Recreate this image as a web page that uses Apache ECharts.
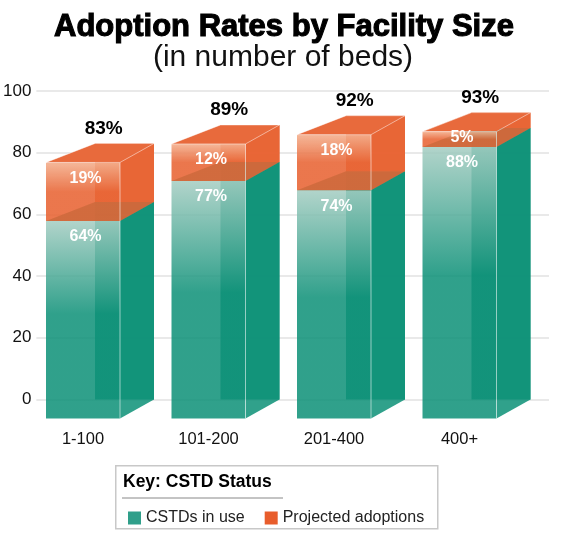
<!DOCTYPE html>
<html>
<head>
<meta charset="utf-8">
<script src="https://cdn.jsdelivr.net/npm/echarts@6/dist/echarts.min.js"></script>
<style>
  html, body { margin: 0; padding: 0; background: #fff; }
  #chart { width: 579px; height: 548px; }
</style>
</head>
<body>
<div id="chart"></div>
<script>
// data
var categories = ['1-100', '101-200', '201-400', '400+'];
var inUse = [64, 77, 74, 88];        // CSTDs in use (%)
var projected = [19, 12, 18, 5];     // Projected adoptions (%)

var FONT = '"Liberation Sans", Arial, sans-serif';
var myChart = echarts.init(document.getElementById('chart'));

var greenData = categories.map(function (c, i) { return [i, 0, inUse[i]]; });
var orangeData = categories.map(function (c, i) { return [i, inUse[i], inUse[i] + projected[i]]; });

function makeBox(kind) {
  var green = kind === 'green';
  var base = green ? 'rgba(14,145,120,0.86)' : 'rgba(232,100,52,0.88)';
  var pale = green ? 'rgba(165,205,194,0.86)' : 'rgba(244,176,142,0.9)';
  var stop = green ? 0.47 : 0.5;
  return function (params, api) {
    var i = api.value(0);
    var v0 = api.value(1), v1 = api.value(2);
    var p0 = api.coord([i, v0]);
    var p1 = api.coord([i, v1]);
    var cx = p0[0], yb0 = p0[1], yb1 = p1[1];
    // front face is 74px wide, the back face sits up and to the right of it
    var FL = cx - 37, FR = cx + 37, BL = cx + 12, BR = cx + 71, D = 19;
    var h = yb0 - yb1;
    var children = [
      { type: 'rect', shape: { x: BL, y: yb1, width: BR - BL, height: h }, style: { fill: base } },
      { type: 'polygon', shape: { points: [[FR, yb1 + D], [BR, yb1], [BR, yb0], [FR, yb0 + D]] }, style: { fill: base } },
      { type: 'rect', shape: { x: FL, y: yb1 + D, width: FR - FL, height: h },
        style: { fill: new echarts.graphic.LinearGradient(0, 0, 0, 1, [
          { offset: 0, color: pale }, { offset: stop, color: base }, { offset: 1, color: base }
        ]) } },
      { type: 'line', shape: { x1: FR, y1: yb1 + D, x2: FR, y2: yb0 + D }, style: { stroke: 'rgba(255,255,255,0.55)', lineWidth: 1 } }
    ];
    if (green) {
      children.push({ type: 'polygon', shape: { points: [[FL, yb1 + D], [FR, yb1 + D], [BR, yb1], [BL, yb1]] }, style: { fill: base } });
    } else {
      children.push({ type: 'polygon', shape: { points: [[FL, yb1 + D], [FR, yb1 + D], [BR, yb1], [BL, yb1]] },
        style: { fill: '#e86a3c', stroke: 'rgba(255,255,255,0.6)', lineWidth: 0.8 } });
      children.push({ type: 'text', style: {
        text: v1 + '%', x: (FL + FR + BL + BR) / 4, y: yb1 - 15,
        fill: '#000', font: 'bold 19px ' + FONT, align: 'center', verticalAlign: 'middle' } });
    }
    var ft = yb1 + D, fb = yb0 + D;
    children.push({ type: 'text', style: {
      text: (v1 - v0) + '%', x: cx + 2.5, y: Math.min(ft + 16, (ft + fb) / 2 - 2),
      fill: '#fff', font: 'bold 16px ' + FONT, align: 'center', verticalAlign: 'middle' } });
    return { type: 'group', children: children };
  };
}

var option = {
  animation: false,
  title: [
    { text: 'Adoption Rates by Facility Size', left: 279, textAlign: 'center', top: 7,
      textStyle: { fontFamily: FONT, fontSize: 31, fontWeight: 'bold', color: '#000', textBorderColor: '#000', textBorderWidth: 1.1 } },
    { text: '(in number of beds)', left: 278, textAlign: 'center', top: 38,
      textStyle: { fontFamily: FONT, fontSize: 30, fontWeight: 'normal', color: '#111' } }
  ],
  grid: [
    { left: 35, right: 30, top: 91, bottom: 148.5 },
    { left: 20.25, width: 502, top: 91, bottom: 148.5 }
  ],
  xAxis: [
    { type: 'value', gridIndex: 0, show: false, min: 0, max: 1 },
    { type: 'category', gridIndex: 1, data: categories,
      axisLine: { show: false }, axisTick: { show: false },
      axisLabel: { fontFamily: FONT, fontSize: 16.5, color: '#111', margin: 31 } }
  ],
  yAxis: [
    { type: 'value', gridIndex: 0, min: 0, max: 100, interval: 20,
      axisLine: { show: false }, axisTick: { show: false },
      axisLabel: { fontFamily: FONT, fontSize: 17, color: '#111', margin: 5 },
      splitLine: { lineStyle: { color: '#e2e2e2', width: 1.5 } } },
    { type: 'value', gridIndex: 1, min: 0, max: 100, show: false }
  ],
  legend: {
    data: ['CSTDs in use', 'Projected adoptions'],
    left: 123, top: 505, icon: 'rect', itemWidth: 13, itemHeight: 13, itemGap: 20,
    textStyle: { fontFamily: FONT, fontSize: 16, color: '#222' }
  },
  graphic: [
    { type: 'rect', left: 115, top: 465, z: -1, shape: { width: 322, height: 63 },
      style: { fill: '#fff', stroke: '#c8c8c8', lineWidth: 1.5 } },
    { type: 'text', left: 123, top: 473,
      style: { text: 'Key: CSTD Status', font: 'bold 17.5px ' + FONT, fill: '#000' } },
    { type: 'line', shape: { x1: 122, y1: 498, x2: 283, y2: 498 }, style: { stroke: '#888', lineWidth: 1 } }
  ],
  series: [
    { name: 'CSTDs in use', type: 'custom', xAxisIndex: 1, yAxisIndex: 1, clip: false,
      itemStyle: { color: '#2f9f8a' }, encode: { x: 0, y: [1, 2] },
      renderItem: makeBox('green'), data: greenData },
    { name: 'Projected adoptions', type: 'custom', xAxisIndex: 1, yAxisIndex: 1, clip: false,
      itemStyle: { color: '#e85d2c' }, encode: { x: 0, y: [1, 2] },
      renderItem: makeBox('orange'), data: orangeData }
  ]
};

myChart.setOption(option);
</script>
</body>
</html>
